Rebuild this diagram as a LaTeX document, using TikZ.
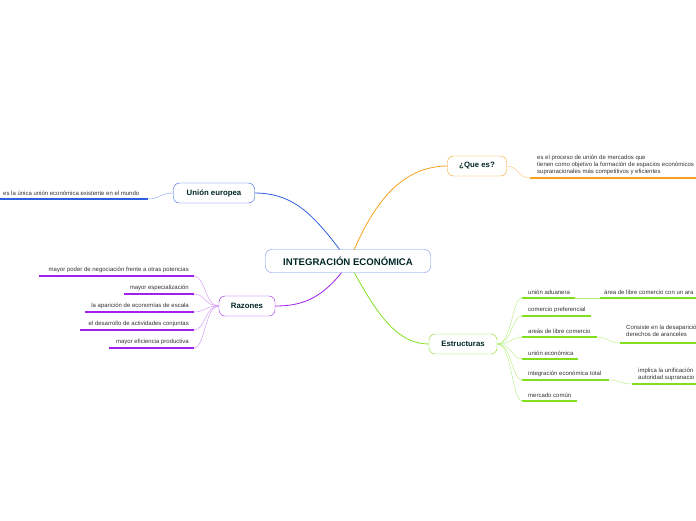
\documentclass[tikz,border=0pt]{standalone}
\usepackage{fontspec}
\setmainfont{Liberation Sans}
\begin{document}
\begin{tikzpicture}[x=1pt,y=-1pt,
  box/.style={draw,rounded corners=6pt,fill=white,font=\bfseries\fontsize{7.8}{8}\selectfont,text=black!70!teal,inner sep=0pt},
  leaf/.style={font=\fontsize{6}{7}\selectfont,text=black!80,inner sep=0pt,align=left},
  ul/.style={line width=1.2pt}]
\useasboundingbox (0,0) rectangle (696,520);
\clip (0,0) rectangle (696,520);
\definecolor{cblue}{HTML}{2F5FE0}
\definecolor{corange}{HTML}{F5A020}
\definecolor{cpurple}{HTML}{A020F0}
\definecolor{cgreen}{HTML}{80E020}
% connectors (drawn first)
\coordinate (c0) at (348,261);
\draw[corange,thick] (354,250) .. controls (380,190) and (410,166) .. (448,166);
\draw[cblue,thick] (340,250) .. controls (310,210) and (290,193) .. (254,193);
\draw[cpurple,thick] (342,272) .. controls (320,300) and (300,306) .. (275,306);
\draw[cgreen,thick] (354,272) .. controls (380,320) and (400,344) .. (429,344);
% central
\node[box,draw=cblue!70,minimum width=165pt,minimum height=23pt,font=\bfseries\fontsize{9.6}{10}\selectfont] (c) at (348,261) {INTEGRACIÓN ECONÓMICA};
% Que es
\node[box,draw=corange,minimum width=59pt,minimum height=20pt] (q) at (477,166) {¿Que es?};
\coordinate (q1) at (530,178);
\draw[corange!60] (q.east) .. controls (518,166) and (518,178) .. (q1);
\draw[ul,corange] (q1) -- (696,178);
\node[leaf,anchor=west] (qt) at (537,165) {es el proceso de unión de mercados que\\tienen como objetivo la formación de espacios económicos\\supranacionales más competitivos y eficientes};
% Union europea
\node[box,draw=cblue,minimum width=81pt,minimum height=20pt] (u) at (214,193) {Unión europea};
\coordinate (u1) at (148,199);
\draw[cblue!60] (u.west) .. controls (160,193) and (160,199) .. (u1);
\draw[ul,cblue] (u1) -- (0,199);
\node[leaf,anchor=west] (ut) at (3,193) {es la única unión económica existente en el mundo};
% Razones
\node[box,draw=cpurple,minimum width=56pt,minimum height=20pt] (r) at (247,306) {Razones};
\foreach \y/\l/\t [count=\i] in {276/39/mayor poder de negociación frente a otras potencias,294/124/mayor especialización,312/85/la aparición de economías de escala,330/80/el desarrollo de actividades conjuntas,348/109/mayor eficiencia productiva}{
  \coordinate (r\i) at (194,\y);
  \draw[cpurple!50] (r.west) .. controls (205,306) and (205,\y) .. (r\i);
  \draw[ul,cpurple] (r\i) -- (\l,\y);
  \node[leaf,anchor=east] (rt\i) at (189,\y-6) {\t};
}
% Estructuras
\node[box,draw=cgreen,minimum width=68pt,minimum height=20pt] (e) at (463,344) {Estructuras};
\foreach \y/\r/\t [count=\i] in {298/575/unión aduanera,316/591/comercio preferencial,337/597/areás de libre comercio,359/578/unión económica,380/609/integración económica total,401/577/mercado común}{
  \coordinate (e\i) at (522,\y);
  \draw[cgreen!60] (e.east) .. controls (512,344) and (512,\y) .. (e\i);
  \draw[ul,cgreen] (e\i) -- (\r,\y);
  \node[leaf,anchor=west] (et\i) at (528,\y-6) {\t};
}
\coordinate (s1) at (600,298);
\draw[cgreen!60] (575,298) -- (s1);
\draw[ul,cgreen] (s1) -- (696,298);
\node[leaf,anchor=west] (st1) at (604,292) {área de libre comercio con un ara};
\coordinate (s2) at (620,343);
\draw[cgreen!60] (597,337) .. controls (608,337) and (608,343) .. (s2);
\draw[ul,cgreen] (s2) -- (696,343);
\node[leaf,anchor=west] (st2) at (626,331) {Consiste en la desaparició\\derechos de aranceles};
\coordinate (s3) at (632,384);
\draw[cgreen!60] (609,380) .. controls (620,380) and (620,384) .. (s3);
\draw[ul,cgreen] (s3) -- (696,384);
\node[leaf,anchor=west] (st3) at (638,374) {implica la unificación\\autoridad supranacio};
\end{tikzpicture}
\end{document}
